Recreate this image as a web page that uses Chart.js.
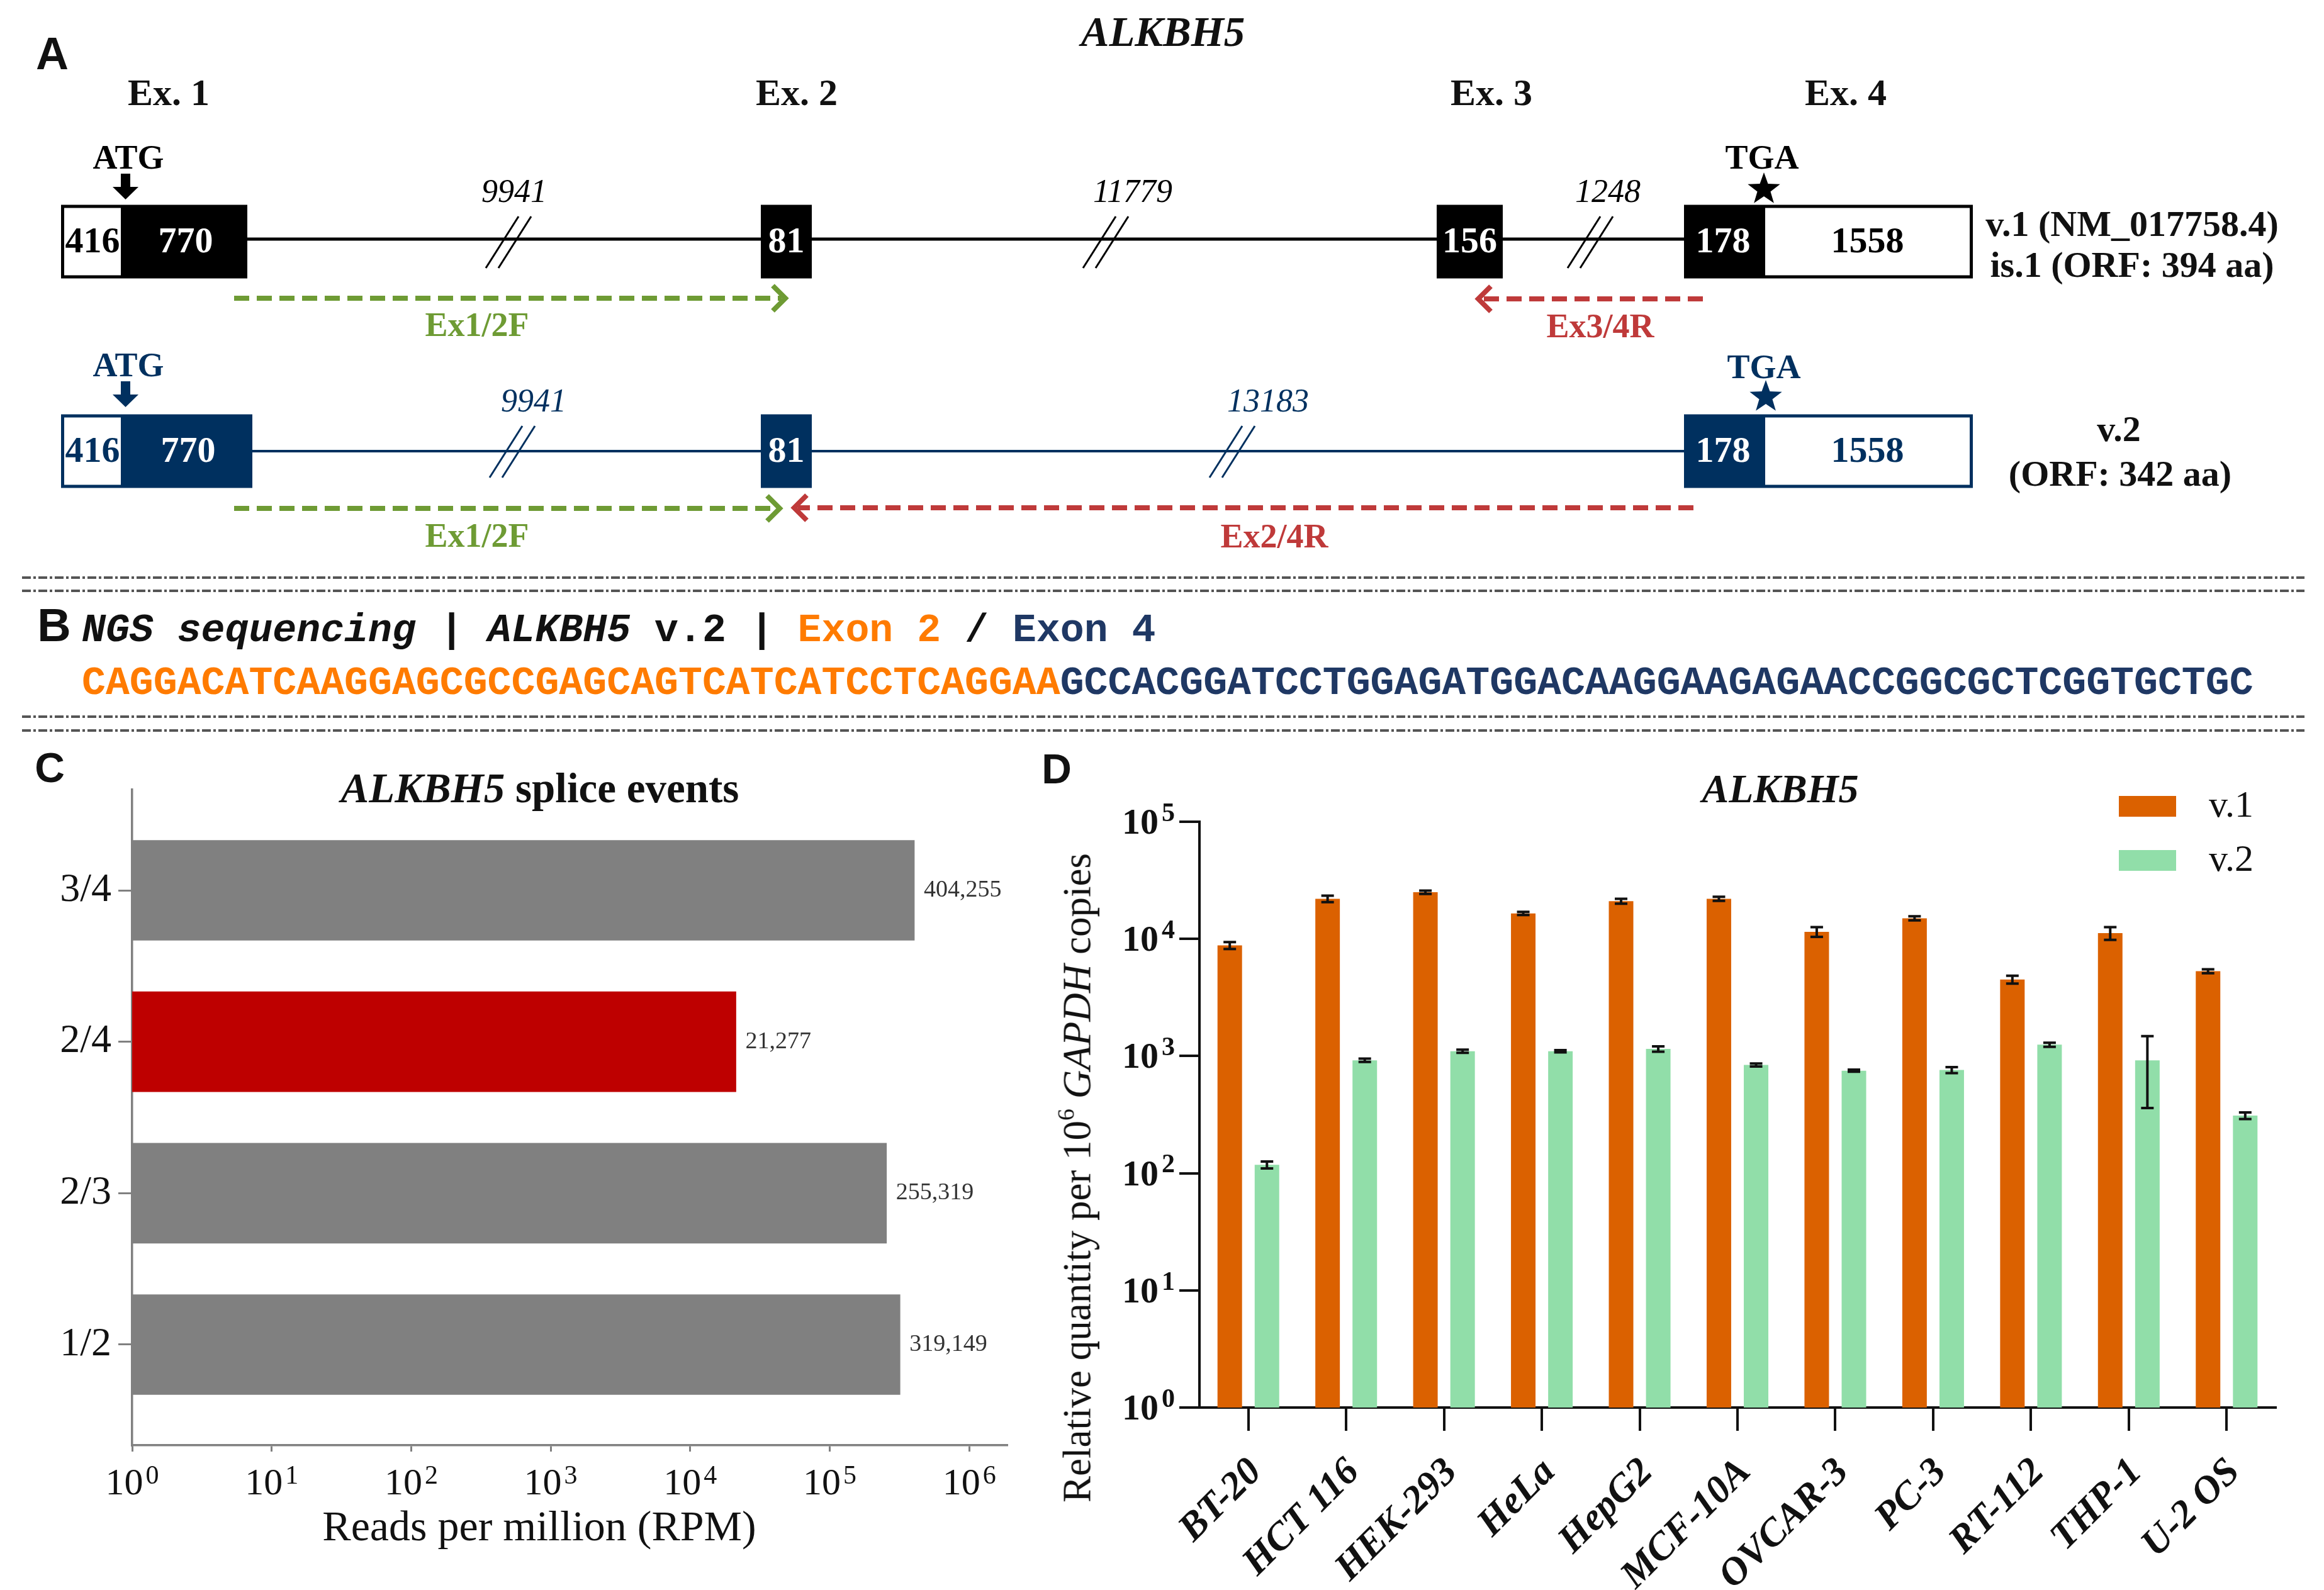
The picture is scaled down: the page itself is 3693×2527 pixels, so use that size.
<!DOCTYPE html>
<html>
<head>
<meta charset="utf-8">
<script src="https://cdn.jsdelivr.net/npm/chart.js@4.4.1/dist/chart.umd.min.js"></script>
<style>
  body { margin: 0; background: #fff; }
  #page { position: relative; width: 3693px; height: 2527px; overflow: hidden; background: #fff; }
  canvas { position: absolute; }
  .t { position: absolute; white-space: pre; line-height: 1; color: #111; font-family: 'Liberation Serif', serif; }
  .c { transform: translate(-50%, -50%); }
  .l { transform: translate(0, -50%); }
  .letter { font-family: 'Liberation Sans Narrow', 'Liberation Sans', sans-serif; font-weight: bold; }
  .mono { font-family: 'Liberation Mono', monospace; font-weight: bold; font-size: 63.2px; }
  .sep { position: absolute; left: 35px; width: 3627px; height: 4px;
         background: repeating-linear-gradient(90deg, #555 0 14px, transparent 14px 18px, #555 18px 22px, transparent 22px 26px); }
  sup { font-size: 60%; line-height: 0; position: relative; top: -0.1em; }
</style>
</head>
<body>
<div id="page">
  <canvas id="chartA" width="3693" height="880" style="left:0;top:0"></canvas>

  <div class="sep" style="top:916px"></div>
  <div class="sep" style="top:937px"></div>
  <div class="t c letter" style="left:86px;top:994px;font-size:74px">B</div>
  <div class="t l mono" id="seqHead" style="left:130px;top:1003px"></div>
  <div class="t l mono" id="seqLine" style="left:130px;top:1087px"></div>
  <div class="sep" style="top:1137px"></div>
  <div class="sep" style="top:1159px"></div>

  <canvas id="chartC" width="1650" height="1357" style="left:0;top:1170px"></canvas>
  <canvas id="chartD" width="2093" height="1347" style="left:1600px;top:1180px"></canvas>

  <div class="t c letter" style="left:79px;top:1220px;font-size:66px">C</div>
  <div class="t c" style="left:858px;top:1252px;font-size:67px;font-weight:bold"><i>ALKBH5</i> splice events</div>
  <div class="t c" style="left:857px;top:2425px;font-size:68px">Reads per million (RPM)</div>

  <div class="t c letter" style="left:1679px;top:1222px;font-size:66px">D</div>
  <div class="t c" style="left:2829px;top:1254px;font-size:64px;font-weight:bold;font-style:italic">ALKBH5</div>
  <div class="t" style="left:1712px;top:1872px;font-size:63px;transform:translate(-50%,-50%) rotate(-90deg)">Relative quantity per 10<sup>6</sup> <i>GAPDH</i> copies</div>
</div>

<script>
// ---- panel A: transcript maps
const exonHeaders = ['Ex. 1', 'Ex. 2', 'Ex. 3', 'Ex. 4'];
const v1ExonSizes = ['416', '770', '81', '156', '178', '1558'];
const v1IntronSizes = ['9941', '11779', '1248'];
const v2ExonSizes = ['416', '770', '81', '178', '1558'];
const v2IntronSizes = ['9941', '13183'];
const v1Names = ['v.1 (NM_017758.4)', 'is.1 (ORF: 394 aa)'];
const v2Names = ['v.2', '(ORF: 342 aa)'];
const v1Primers = ['Ex1/2F', 'Ex3/4R'];
const v2Primers = ['Ex1/2F', 'Ex2/4R'];

// ---- panel B: junction read
const exon2Seq = 'CAGGACATCAAGGAGCGCCGAGCAGTCATCATCCTCAGGAA';
const exon4Seq = 'GCCACGGATCCTGGAGATGGACAAGGAAGAGAACCGGCGCTCGGTGCTGC';

// ---- panel C: splice events (RPM)
const spliceEvents = ['1/2', '2/3', '2/4', '3/4'];
const spliceRPM = [319149, 255319, 21277, 404255];

// ---- panel D: qPCR per cell line
const cellLines = ['BT-20', 'HCT 116', 'HEK-293', 'HeLa', 'HepG2', 'MCF-10A', 'OVCAR-3', 'PC-3', 'RT-112', 'THP-1', 'U-2 OS'];
const v1Mean = [8800, 22000, 25000, 16500, 21000, 22000, 11500, 15000, 4500, 11200, 5300];
const v1Err = [600, 1400, 800, 500, 1000, 900, 1100, 600, 350, 1400, 200];
const v2Mean = [118, 920, 1100, 1100, 1150, 840, 750, 760, 1250, 920, 310];
const v2Err = [8, 30, 35, 25, 60, 25, 15, 45, 50, 560, 20];

const decadesC = [1, 10, 100, 1000, 10000, 100000, 1000000];
const decadesD = [1, 10, 100, 1000, 10000, 100000];

const orange = '#ff7b00';
const navy = '#1f3864';
document.getElementById('seqHead').innerHTML =
  '<i>NGS sequencing</i> | <i>ALKBH5</i> v.2 | <span style="color:' + orange + '">Exon 2</span> / <span style="color:' + navy + '">Exon 4</span>';
document.getElementById('seqLine').innerHTML =
  '<span style="color:' + orange + '">' + exon2Seq + '</span><span style="color:' + navy + '">' + exon4Seq + '</span>';

// schematic layout for panel A (diagram units)
const layoutA = {
  headerX: [268, 1266, 2370, 2933], headerY: 151,
  rows: [
    { y: 384, h: 117, lineY: 380, lineW: 5, line: [393, 2676], color: '#000000',
      boxes: [[97, 197, false], [197, 393, true], [1209, 1290, true], [2283, 2388, true], [2676, 2800, true], [2800, 3135, false]],
      intronX: [817, 1800, 2555], intronY: 307, breakX: [808, 1757, 2527],
      atg: [199, 254], tga: [2800, 254, 301],
      nameX: [3388, 3388], nameY: [360, 425],
      arrows: [[372, 1248, 474, '#6e9b34', 758, 520], [2706, 2349, 475, '#bf3a3a', 2543, 522]] },
    { y: 717, h: 117, lineY: 717, lineW: 4, line: [401, 2676], color: '#00305f',
      boxes: [[97, 197, false], [197, 401, true], [1209, 1290, true], [2676, 2800, true], [2800, 3135, false]],
      intronX: [848, 2015], intronY: 640, breakX: [814, 1958],
      atg: [199, 584], tga: [2803, 587, 631],
      nameX: [3367, 3369], nameY: [686, 757],
      arrows: [[372, 1239, 808, '#6e9b34', 758, 855], [2691, 1262, 807, '#bf3a3a', 2025, 856]] }
  ]
};
const rowsA = [
  { exons: v1ExonSizes, introns: v1IntronSizes, names: v1Names, primers: v1Primers, ...layoutA.rows[0] },
  { exons: v2ExonSizes, introns: v2IntronSizes, names: v2Names, primers: v2Primers, ...layoutA.rows[1] }
];

const geneMap = {
  id: 'geneMap',
  afterDraw(chart) {
    const { ctx, scales: { x, y } } = chart;
    const X = v => x.getPixelForValue(v);
    const Y = v => y.getPixelForValue(v);
    const text = (s, px, py, font, color) => {
      ctx.font = font; ctx.fillStyle = color;
      ctx.textAlign = 'center'; ctx.textBaseline = 'middle';
      ctx.fillText(s, X(px), Y(py));
    };
    const star = (cx, cy, ro, ri, color) => {
      ctx.fillStyle = color;
      ctx.beginPath();
      for (let k = 0; k < 10; k++) {
        const r = k % 2 ? ri : ro;
        const a = -Math.PI / 2 + k * Math.PI / 5;
        ctx.lineTo(X(cx + r * Math.cos(a)), Y(cy + r * Math.sin(a)));
      }
      ctx.closePath();
      ctx.fill();
    };

    ctx.save();
    text('A', 83, 90, 'bold 72px "Liberation Sans Narrow", "Liberation Sans"', '#111');
    text('ALKBH5', 1848, 56, 'italic bold 67px "Liberation Serif"', '#111');
    exonHeaders.forEach((h, i) => text(h, layoutA.headerX[i], layoutA.headerY, 'bold 60px "Liberation Serif"', '#111'));

    rowsA.forEach(row => {
      const top = row.y - row.h / 2;
      // intron line
      ctx.strokeStyle = row.color;
      ctx.lineWidth = row.lineW;
      ctx.beginPath();
      ctx.moveTo(X(row.line[0]), Y(row.lineY));
      ctx.lineTo(X(row.line[1]), Y(row.lineY));
      ctx.stroke();
      // break marks
      ctx.lineWidth = 3;
      row.breakX.forEach(bx => {
        [-10, 10].forEach(o => {
          ctx.beginPath();
          ctx.moveTo(X(bx + o - 26), Y(row.y + 42));
          ctx.lineTo(X(bx + o + 26), Y(row.y - 40));
          ctx.stroke();
        });
      });
      row.introns.forEach((s, i) => text(s, row.intronX[i], row.intronY, 'italic 52px "Liberation Serif"', row.color));

      // exon boxes
      row.boxes.forEach(([a, b, filled], i) => {
        const bx = X(a), by = Y(top), bw = X(b) - X(a), bh = Y(top + row.h) - Y(top);
        if (filled) {
          ctx.fillStyle = row.color;
          ctx.fillRect(bx, by, bw, bh);
        } else {
          ctx.fillStyle = '#fff';
          ctx.fillRect(bx, by, bw, bh);
          ctx.strokeStyle = row.color;
          ctx.lineWidth = 5;
          ctx.strokeRect(bx + 2.5, by + 2.5, bw - 5, bh - 5);
        }
        text(row.exons[i], (a + b) / 2, row.y + 2, 'bold 58px "Liberation Serif"', filled ? '#fff' : row.color);
      });

      // start codon
      const [ax, ay] = row.atg;
      text('ATG', ax + 5, ay, 'bold 54px "Liberation Serif"', row.color);
      ctx.fillStyle = row.color;
      ctx.fillRect(X(ax - 7), Y(ay + 22), X(ax + 8) - X(ax - 7), Y(ay + 44) - Y(ay + 22));
      ctx.beginPath();
      ctx.moveTo(X(ax - 20), Y(ay + 43));
      ctx.lineTo(X(ax + 21), Y(ay + 43));
      ctx.lineTo(X(ax + 0.5), Y(ay + 63));
      ctx.closePath();
      ctx.fill();

      // stop codon
      const [tx, ty, sy] = row.tga;
      text('TGA', tx, ty, 'bold 54px "Liberation Serif"', row.color);
      star(tx + 3, sy, 27, 11, row.color);

      row.names.forEach((s, i) => text(s, row.nameX[i], row.nameY[i], 'bold 58px "Liberation Serif"', '#111'));

      // primers
      row.arrows.forEach(([from, to, py, color, lx, ly], i) => {
        const dir = Math.sign(to - from);
        ctx.strokeStyle = color;
        ctx.lineWidth = 8;
        ctx.setLineDash([24, 12]);
        ctx.beginPath();
        ctx.moveTo(X(from), Y(py));
        ctx.lineTo(X(to - dir * 6), Y(py));
        ctx.stroke();
        ctx.setLineDash([]);
        ctx.beginPath();
        ctx.moveTo(X(to - dir * 20), Y(py - 20));
        ctx.lineTo(X(to), Y(py));
        ctx.lineTo(X(to - dir * 20), Y(py + 20));
        ctx.stroke();
        text(row.primers[i], lx, ly, 'bold 54px "Liberation Serif"', color);
      });
    });
    ctx.restore();
  }
};

new Chart(document.getElementById('chartA'), {
  type: 'scatter',
  data: { datasets: [] },
  options: {
    responsive: false,
    animation: false,
    layout: { padding: 0 },
    plugins: { legend: { display: false }, tooltip: { enabled: false } },
    scales: {
      x: { type: 'linear', min: 0, max: 3693, display: false },
      y: { type: 'linear', min: 0, max: 880, reverse: true, display: false }
    }
  },
  plugins: [geneMap]
});

// power-of-ten tick labels with a real superscript
const makePowerLabels = cfg => ({
  id: 'powerLabels',
  afterDraw(chart) {
    const scale = chart.scales[cfg.axis];
    const ctx = chart.ctx;
    ctx.save();
    ctx.fillStyle = '#111';
    ctx.textBaseline = 'middle';
    ctx.textAlign = 'left';
    scale.ticks.forEach(t => {
      const p = scale.getPixelForValue(t.value);
      const exp = String(Math.round(Math.log10(t.value)));
      ctx.font = cfg.base;
      const wb = ctx.measureText('10').width;
      ctx.font = cfg.sup;
      const we = ctx.measureText(exp).width;
      const total = wb + cfg.gap + we;
      const x0 = scale.isHorizontal() ? p - total / 2 : cfg.right - total;
      const yb = scale.isHorizontal() ? cfg.y : p + cfg.dy;
      ctx.font = cfg.base;
      ctx.fillText('10', x0, yb);
      ctx.font = cfg.sup;
      ctx.fillText(exp, x0 + wb + cfg.gap, yb + cfg.supDy);
    });
    ctx.restore();
  }
});

// ---- panel C
const spliceColors = ['#808080', '#808080', '#be0000', '#808080'];

const valueLabels = {
  id: 'valueLabels',
  afterDatasetsDraw(chart) {
    const ctx = chart.ctx;
    ctx.save();
    ctx.font = '38px "Liberation Serif"';
    ctx.fillStyle = '#333';
    ctx.textAlign = 'left';
    ctx.textBaseline = 'middle';
    chart.getDatasetMeta(0).data.forEach((bar, i) => {
      ctx.fillText(spliceRPM[i].toLocaleString('en-US'), bar.x + 15, bar.y);
    });
    ctx.restore();
  }
};

new Chart(document.getElementById('chartC'), {
  type: 'bar',
  data: {
    datasets: [{
      data: spliceRPM.map((v, i) => ({ x: v, y: i })),
      backgroundColor: spliceColors,
      borderWidth: 0,
      barThickness: 159
    }]
  },
  options: {
    indexAxis: 'y',
    responsive: false,
    animation: false,
    layout: { padding: { left: 0, top: 85, right: 50, bottom: 0 } },
    plugins: { legend: { display: false }, tooltip: { enabled: false } },
    scales: {
      x: {
        type: 'logarithmic',
        min: 1,
        max: 1.86e6,
        afterBuildTicks: s => { s.ticks = decadesC.map(v => ({ value: v })); },
        afterFit: s => { s.height = 230; },
        grid: { drawOnChartArea: false, tickLength: 10, color: '#808080', lineWidth: 3 },
        border: { color: '#808080', width: 3.5 },
        ticks: { display: false, autoSkip: false }
      },
      y: {
        type: 'linear',
        offset: false,
        min: -0.665,
        max: 3.665,
        afterBuildTicks: s => { s.ticks = spliceEvents.map((_, i) => ({ value: i })); },
        afterFit: s => { s.width = 210; },
        grid: { offset: false, drawOnChartArea: false, tickLength: 22, color: '#808080', lineWidth: 3 },
        border: { color: '#808080', width: 3.5 },
        ticks: {
          padding: 11, color: '#111',
          font: { family: 'Liberation Serif', size: 64 },
          callback: v => spliceEvents[v]
        }
      }
    }
  },
  plugins: [valueLabels, makePowerLabels({
    axis: 'x', base: '60px "Liberation Serif"', sup: '42px "Liberation Serif"',
    gap: 4, y: 1189, supDy: -12
  })]
});

// ---- panel D
const errorSets = [v1Err, v2Err];

const errorBars = {
  id: 'errorBars',
  afterDatasetsDraw(chart) {
    const { ctx, scales: { y } } = chart;
    ctx.save();
    ctx.strokeStyle = '#111';
    ctx.lineWidth = 4;
    chart.data.datasets.forEach((ds, i) => {
      chart.getDatasetMeta(i).data.forEach((bar, j) => {
        const m = ds.data[j], e = errorSets[i][j];
        const top = y.getPixelForValue(m + e);
        const bot = y.getPixelForValue(m - e);
        ctx.beginPath();
        ctx.moveTo(bar.x, top); ctx.lineTo(bar.x, bot);
        ctx.moveTo(bar.x - 10, top); ctx.lineTo(bar.x + 10, top);
        ctx.moveTo(bar.x - 10, bot); ctx.lineTo(bar.x + 10, bot);
        ctx.stroke();
      });
    });
    ctx.restore();
  }
};

const legendD = {
  id: 'legendD',
  afterDraw(chart) {
    const ctx = chart.ctx;
    ctx.save();
    chart.data.datasets.forEach((ds, i) => {
      const top = 85 + i * 86;
      ctx.fillStyle = ds.backgroundColor;
      ctx.fillRect(1767, top, 91, 33);
      ctx.fillStyle = '#111';
      ctx.font = '60px "Liberation Serif"';
      ctx.textAlign = 'left';
      ctx.textBaseline = 'middle';
      ctx.fillText(ds.label, 1910, top + 17);
    });
    ctx.restore();
  }
};

new Chart(document.getElementById('chartD'), {
  type: 'bar',
  data: {
    labels: cellLines,
    datasets: [
      { label: 'v.1', data: v1Mean, backgroundColor: '#db6100', barPercentage: 0.66, categoryPercentage: 0.76 },
      { label: 'v.2', data: v2Mean, backgroundColor: '#91dea9', barPercentage: 0.66, categoryPercentage: 0.76 }
    ]
  },
  options: {
    responsive: false,
    animation: false,
    layout: { padding: { left: 0, top: 126, right: 77, bottom: 0 } },
    plugins: { legend: { display: false }, tooltip: { enabled: false } },
    scales: {
      x: {
        afterFit: s => { s.height = 290; },
        grid: { offset: false, drawOnChartArea: false, tickLength: 37, color: '#111', lineWidth: 4 },
        border: { color: '#111', width: 4 },
        ticks: {
          autoSkip: false, minRotation: 45, maxRotation: 45, padding: 30, labelOffset: 12, color: '#111',
          font: { family: 'Liberation Serif', size: 62, weight: 'bold', style: 'italic' }
        }
      },
      y: {
        type: 'logarithmic',
        min: 1,
        max: 100000,
        afterBuildTicks: s => { s.ticks = decadesD.map(v => ({ value: v })); },
        afterFit: s => { s.width = 306; },
        grid: { drawOnChartArea: false, tickLength: 32, color: '#111', lineWidth: 4 },
        border: { color: '#111', width: 4 },
        ticks: { display: false }
      }
    }
  },
  plugins: [errorBars, legendD, makePowerLabels({
    axis: 'y', base: 'bold 58px "Liberation Serif"', sup: 'bold 42px "Liberation Serif"',
    gap: 5, right: 267, dy: 4, supDy: -16
  })]
});
</script>
</body>
</html>
